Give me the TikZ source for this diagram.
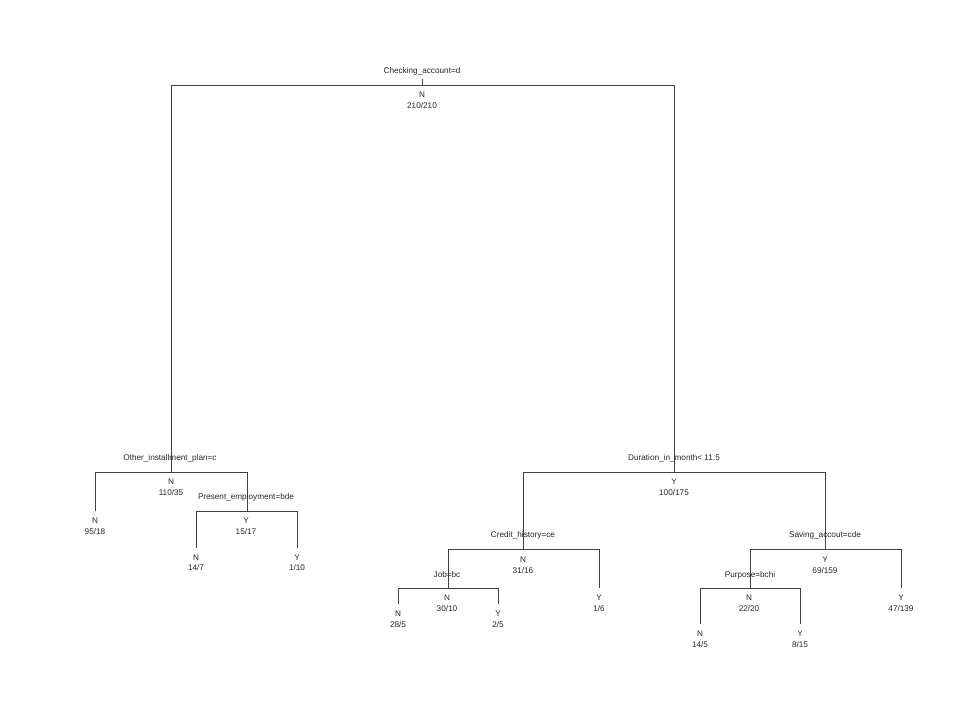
\documentclass[tikz,border=0pt]{standalone}
\usepackage{fontspec}
\setmainfont{Liberation Sans}
\begin{document}
\begin{tikzpicture}[x=1pt,y=-1pt,
  lbl/.style={inner sep=0pt,font=\fontsize{8.2}{9}\selectfont,text=black!85},
  edge/.style={draw=black!75,line width=0.9pt}]
\useasboundingbox (0,0) rectangle (966,725);
\begin{scope}
\clip (0,0) rectangle (966,646);
% coordinates
\coordinate (r0) at (422,79); \coordinate (r) at (422,85);
\coordinate (rl) at (171,85); \coordinate (rr) at (674,85);
\coordinate (a) at (171,472); \coordinate (b) at (674,472);
% left subtree
\coordinate (al) at (95,472); \coordinate (ar) at (247,472);
\coordinate (alL) at (95,511); \coordinate (arB) at (247,511);
\coordinate (cl) at (196,511); \coordinate (cr) at (297,511);
\coordinate (clL) at (196,548); \coordinate (crL) at (297,548);
% right subtree
\coordinate (bl) at (523,472); \coordinate (br) at (825,472);
\coordinate (d) at (523,549); \coordinate (e) at (825,549);
\coordinate (dl) at (448,549); \coordinate (dr) at (599,549);
\coordinate (f) at (448,588); \coordinate (drL) at (599,588);
\coordinate (fl) at (398,588); \coordinate (fr) at (498,588);
\coordinate (flL) at (398,604); \coordinate (frL) at (498,604);
\coordinate (el) at (750,549); \coordinate (er) at (901,549);
\coordinate (g) at (750,588); \coordinate (erL) at (901,588);
\coordinate (gl) at (700,588); \coordinate (gr) at (800,588);
\coordinate (glL) at (700,624); \coordinate (grL) at (800,624);

\draw[edge] (r0) -- (r);
\draw[edge] (a) -- (rl) -- (rr) -- (b);
\draw[edge] (alL) -- (al) -- (ar) -- (arB);
\draw[edge] (clL) -- (cl) -- (cr) -- (crL);
\draw[edge] (bl) -- (br) (d) -- (bl) (br) -- (e);
\draw[edge] (dl) -- (dr) -- (drL) (dl) -- (f);
\draw[edge] (flL) -- (fl) -- (fr) -- (frL);
\draw[edge] (el) -- (er) -- (erL) (el) -- (g);
\draw[edge] (glL) -- (gl) -- (gr) -- (grL);

\node[lbl] (t0) at (422,71) {Checking\_account=d};
\node[lbl] (t0a) at (422,95) {N}; \node[lbl] (t0b) at (422,106) {210/210};
\node[lbl] (t1) at (170,458) {Other\_installment\_plan=c};
\node[lbl] (t1a) at (171,482) {N}; \node[lbl] (t1b) at (171,493) {110/35};
\node[lbl] (t2a) at (95,521) {N}; \node[lbl] (t2b) at (95,532) {95/18};
\node[lbl] (t3) at (246,497) {Present\_employment=bde};
\node[lbl] (t3a) at (246,521) {Y}; \node[lbl] (t3b) at (246,532) {15/17};
\node[lbl] (t4a) at (196,558) {N}; \node[lbl] (t4b) at (196,568) {14/7};
\node[lbl] (t5a) at (297,558) {Y}; \node[lbl] (t5b) at (297,568) {1/10};
\node[lbl] (t6) at (674,458) {Duration\_in\_month< 11.5};
\node[lbl] (t6a) at (674,482) {Y}; \node[lbl] (t6b) at (674,493) {100/175};
\node[lbl] (t7) at (523,535) {Credit\_history=ce};
\node[lbl] (t7a) at (523,560) {N}; \node[lbl] (t7b) at (523,571) {31/16};
\node[lbl] (t8) at (447,575) {Job=bc};
\node[lbl] (t8a) at (447,598) {N}; \node[lbl] (t8b) at (447,609) {30/10};
\node[lbl] (t9a) at (398,614) {N}; \node[lbl] (t9b) at (398,625) {28/5};
\node[lbl] (t10a) at (498,614) {Y}; \node[lbl] (t10b) at (498,625) {2/5};
\node[lbl] (t11a) at (599,598) {Y}; \node[lbl] (t11b) at (599,609) {1/6};
\node[lbl] (t12) at (825,535) {Saving\_accout=cde};
\node[lbl] (t12a) at (825,560) {Y}; \node[lbl] (t12b) at (825,571) {69/159};
\node[lbl] (t13a) at (901,598) {Y}; \node[lbl] (t13b) at (901,609) {47/139};
\node[lbl] (t14) at (750,575) {Purpose=bchi};
\node[lbl] (t14a) at (749,598) {N}; \node[lbl] (t14b) at (749,609) {22/20};
\node[lbl] (t15a) at (700,634) {N}; \node[lbl] (t15b) at (700,645) {14/5};
\node[lbl] (t16a) at (800,634) {Y}; \node[lbl] (t16b) at (800,645) {8/15};
\end{scope}
\end{tikzpicture}
\end{document}
